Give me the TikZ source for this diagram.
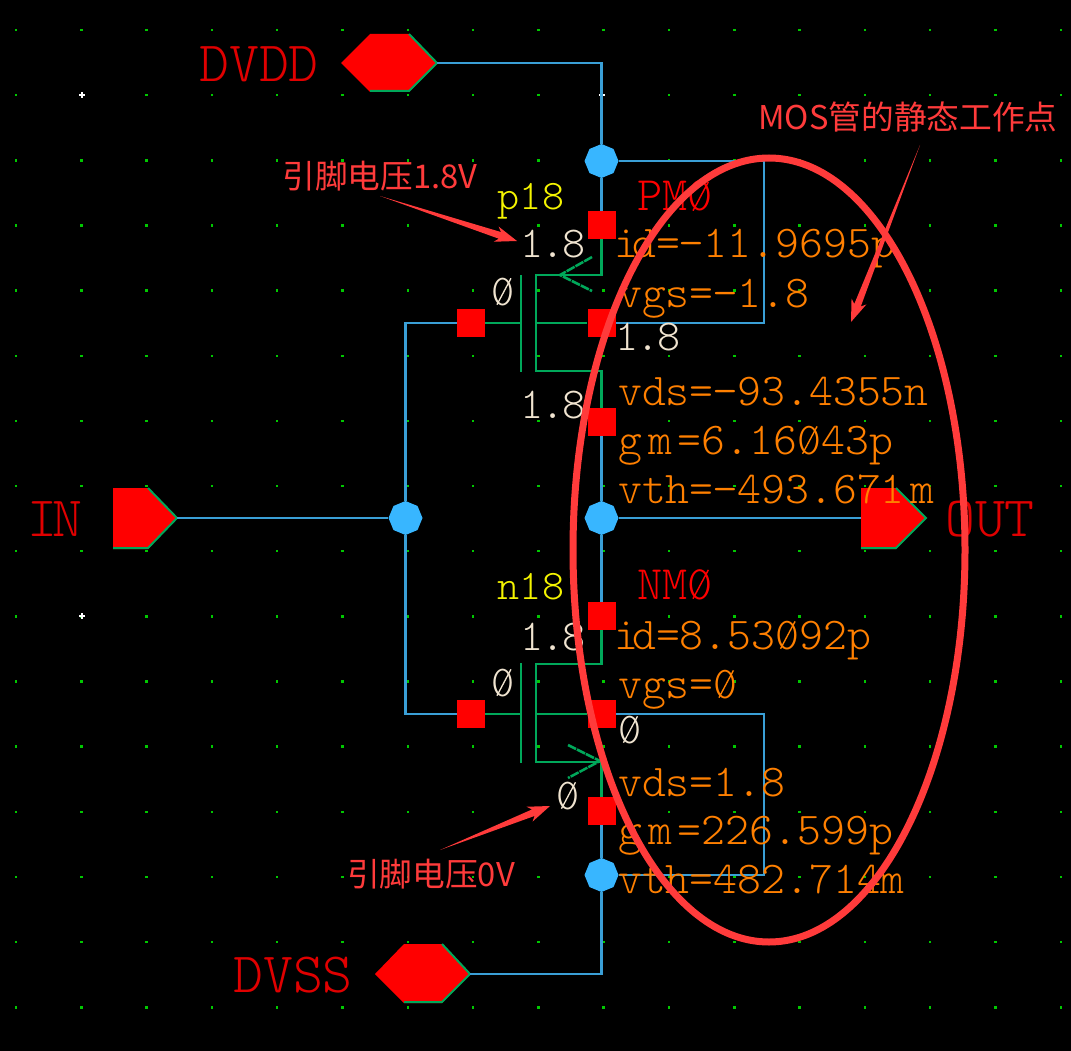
\documentclass[tikz,border=0pt]{standalone}
\usepackage{fontspec}
\usetikzlibrary{calc,shapes.geometric}
\setmonofont{Latin Modern Mono Light}
\newfontfamily\cjk{Noto Sans CJK SC}
\definecolor{wire}{HTML}{3A9FD6}
\definecolor{dotblue}{HTML}{38B6FF}
\definecolor{devgreen}{HTML}{00A85A}
\definecolor{gridg}{HTML}{00C800}
\definecolor{pinred}{HTML}{FF0000}
\definecolor{lblred}{HTML}{E00000}
\definecolor{annot}{HTML}{FF3B3B}
\definecolor{orng}{HTML}{FF8000}
\definecolor{beige}{HTML}{F0E4D0}
\definecolor{ylw}{HTML}{F5F500}
\newcommand\zs{\rlap{\kern.1em\rotatebox{62}{\rule{.68em}{.03em}}}0}
\newcommand\va{1\kern-2pt.\kern-2pt8}
\newcommand\wedgearrow[2]{%
  \coordinate (wa) at (#1); \coordinate (wb) at (#2);
  \fill[annot] (wb)
    -- ($(wb)!22pt!(wa)!8pt!90:(wa)$)
    -- ($(wb)!18pt!(wa)!3.5pt!90:(wa)$)
    -- (wa)
    -- ($(wb)!18pt!(wa)!3.5pt!-90:(wa)$)
    -- ($(wb)!22pt!(wa)!8pt!-90:(wa)$) -- cycle;}
\tikzset{
  wireline/.style={draw=wire,line width=2.5pt},
  devline/.style={draw=devgreen,line width=2.5pt},
  junction/.style={regular polygon,regular polygon sides=8,fill=dotblue,minimum size=34pt,inner sep=0pt,shape border rotate=22.5},
  term/.style={fill=pinred,minimum size=28pt,inner sep=0pt},
  big/.style={inner sep=0pt,anchor=base,text=lblred,font=\ttfamily\fontsize{57}{57}\selectfont},
  inst/.style={inner sep=0pt,anchor=base,text=pinred,font=\ttfamily\fontsize{48}{48}\selectfont},
  param/.style={inner sep=0pt,anchor=base west,text=orng,font=\ttfamily\fontsize{45.5}{45.5}\selectfont},
  volt/.style={inner sep=0pt,anchor=base,text=beige,font=\ttfamily\fontsize{44}{44}\selectfont},
  model/.style={inner sep=0pt,anchor=base,text=ylw,font=\ttfamily\fontsize{42}{42}\selectfont},
  note/.style={inner sep=0pt,text=annot,font=\cjk\fontsize{32.7}{32.7}\selectfont},
  pinshape/.style={fill=pinred},
  pinedge/.style={draw=devgreen,line width=2pt},
}
\begin{document}
\begin{tikzpicture}[x=1pt,y=-1pt]
\useasboundingbox (0,0) rectangle (1071,1051);
\fill[black] (0,0) rectangle (1071,1051);
% grid
\foreach \i in {0,...,16}{\foreach \j in {0,...,15}{
  \fill[gridg] ({16+65.3*\i-1.25},{30+65.15*\j-1.25}) rectangle ++(2.5,2.5);}}
\foreach \p in {(82,95),(82,616),(602,95)}{
  \fill[white] \p ++(-3,-1) rectangle ++(6,2);
  \fill[white] \p ++(-1,-3) rectangle ++(2,6);}
% coordinates
\coordinate (dvddw) at (437,63);
\coordinate (dvssw) at (470,974);
\coordinate (inw) at (177,518);
\coordinate (outw) at (861,518);
\coordinate (pgbar) at (521,323);
\coordinate (ngbar) at (521,714);
\coordinate (pch) at (536,323);
\coordinate (nch) at (536,714);
% pins
\fill[pinshape] (341,63) -- (370,34) -- (409,34) -- (437,63) -- (409,92) -- (370,92) -- cycle;
\draw[pinedge] (409,34) -- (437,63) -- (409,91) -- (370,91);
\fill[pinshape] (375,974) -- (404,944) -- (442,944) -- (470,974) -- (442,1003) -- (404,1003) -- cycle;
\draw[pinedge] (442,944) -- (470,974) -- (442,1002) -- (404,1002);
\fill[pinshape] (113,488) -- (148,488) -- (177,518) -- (148,549) -- (113,549) -- cycle;
\draw[pinedge] (148,488) -- (177,518) -- (148,548) -- (113,548);
\fill[pinshape] (861,488) -- (896,488) -- (926,518) -- (896,549) -- (861,549) -- cycle;
\draw[pinedge] (896,488) -- (926,518) -- (896,548) -- (861,548);
% junctions & terminals
\node[junction] (jtop) at (601.5,161) {};
\node[junction] (jin) at (405.5,518) {};
\node[junction] (jmid) at (601.5,518) {};
\node[junction] (jbot) at (601.5,875) {};
\node[term] (pg) at (471,323) {};
\node[term] (ps) at (601.5,225) {};
\node[term] (pb) at (601.5,323) {};
\node[term] (pd) at (601.5,422) {};
\node[term] (ng) at (471,714) {};
\node[term] (nd) at (601.5,616) {};
\node[term] (nb) at (601.5,714) {};
\node[term] (ns) at (601.5,811) {};
% wires
\draw[wireline] (dvddw) -| (jtop.north);
\draw[wireline] (jtop.south) -- (ps.north);
\draw[wireline] (jtop.east) -- (764,161) -- (764,323) -- (pb.east);
\draw[wireline] (pd.south) -- (jmid.north);
\draw[wireline] (jmid.south) -- (nd.north);
\draw[wireline] (ns.south) -- (jbot.north);
\draw[wireline] (jbot.south) |- (dvssw);
\draw[wireline] (jbot.east) -- (764,875) -- (764,714) -- (nb.east);
\draw[wireline] (inw) -- (jin.west);
\draw[wireline] (jmid.east) -- (outw);
\draw[wireline] (jin.north) |- (pg.west);
\draw[wireline] (jin.south) |- (ng.west);
% PMOS
\draw[devline] (pg.east) -- (pgbar);
\draw[devline] ($(pgbar)+(0,-48)$) -- ($(pgbar)+(0,49)$);
\draw[devline] (ps.south) -- (601.5,275) -- (536,275) -- (536,371) -- (601.5,371) -- (pd.north);
\draw[devline] (pch) -- (pb.west);
\draw[devline,dash pattern=on 9pt off 1pt] (592,257) -- (560,275) -- (592,291);
% NMOS
\draw[devline] (ng.east) -- (ngbar);
\draw[devline] ($(ngbar)+(0,-51)$) -- ($(ngbar)+(0,49)$);
\draw[devline] (nd.south) -- (601.5,664) -- (536,664) -- (536,762) -- (600,762);
\draw[devline] (601.5,762) -- (ns.north);
\draw[devline] (nch) -- (nb.west);
\draw[devline,dash pattern=on 9pt off 1pt] (568,745) -- (600,761) -- (568,778);
% labels
\node[big] (tdvdd) at (259,82) {DVDD};
\node[big] (tdvss) at (293,992) {DVSS};
\node[big] (tin) at (55,536) {I\kern-5pt N};
\node[big] (tout) at (990,536) {OUT};
\node[model] (mp) at (531,210) {p18};
\node[model] (mn) at (531,599) {n18};
\node[inst] (ipm) at (675,211) {PM\zs};
\node[inst] (inm) at (675,599) {NM\zs};
\node[param] (p1) at (614,258) {i\kern-6pt d=−11.9695p};
\node[param] (p2) at (618,307) {vgs=−1.8};
\node[param] (p3) at (618,405) {vds=−93.4355n};
\node[param] (p4) at (618,454) {g\kern6pt m\kern6pt=6.16\zs43p};
\node[param] (p5) at (618,503) {vth=−493.671\kern6pt m};
\node[param] (n1) at (614,649) {i\kern-6pt d=8.53\zs92p};
\node[param] (n2) at (618,698) {vgs=\zs};
\node[param] (n3) at (618,796) {vds=1.8};
\node[param] (n4) at (618,844) {g\kern6pt m\kern6pt=226.599p};
\node[param] (n5) at (618,893) {vth=482.714m};
\node[volt] (v1) at (553,258) {\va};
\node[volt] (v2) at (503.5,305) {\zs};
\node[volt] (v3) at (648,350) {\va};
\node[volt] (v4) at (553,418) {\va};
\node[volt] (v5) at (553,650) {\va};
\node[volt] (v6) at (503.5,696) {\zs};
\node[volt] (v7) at (630,743) {\zs};
\node[volt] (v8) at (568,809) {\zs};
% annotations
\draw[annot,line width=7pt] (769,550) ellipse [x radius=196,y radius=392];
\node[note] (a1) at (908,117) {MOS管的静态工作点};
\node[note] (a2) at (380,176) {引脚电压1.8V};
\node[note] (a3) at (431,874) {引脚电压0V};
\wedgearrow{380,196}{517,241}
\wedgearrow{440,850}{550,806}
\wedgearrow{920,145}{851,322}
\end{tikzpicture}
\end{document}
